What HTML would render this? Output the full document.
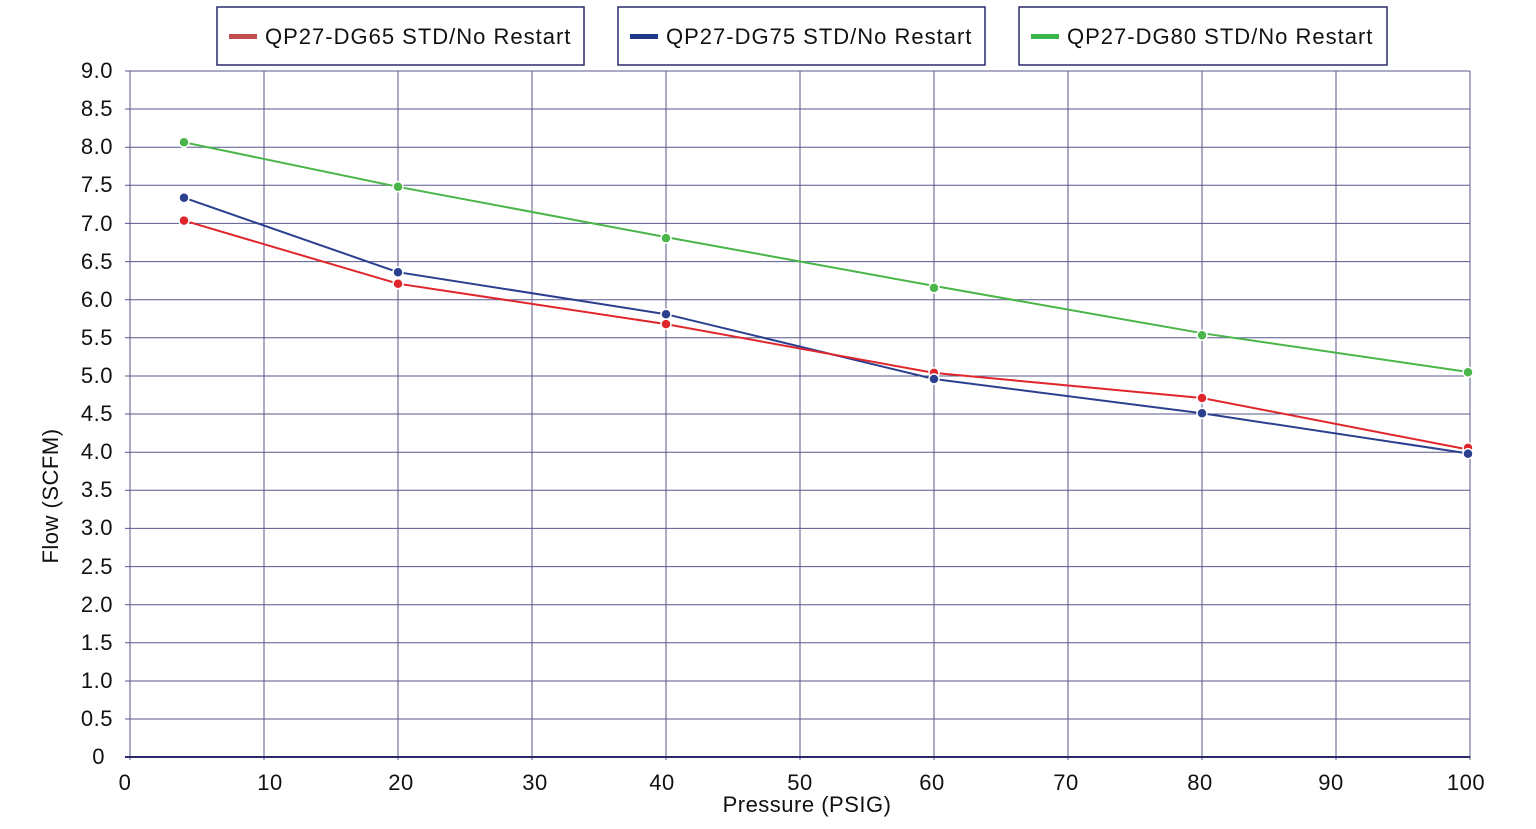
<!DOCTYPE html>
<html><head><style>body{margin:0;background:#fff}svg{display:block}</style></head><body>
<svg width="1536" height="829" xmlns="http://www.w3.org/2000/svg" font-family="Liberation Sans, sans-serif">
<g stroke="#3a3a7a" stroke-width="1" opacity="0.85">
<line x1="125" y1="71" x2="1470" y2="71"/><line x1="125" y1="109" x2="1470" y2="109"/><line x1="125" y1="147.2" x2="1470" y2="147.2"/><line x1="125" y1="185.3" x2="1470" y2="185.3"/><line x1="125" y1="223.4" x2="1470" y2="223.4"/><line x1="125" y1="261.6" x2="1470" y2="261.6"/><line x1="125" y1="299.7" x2="1470" y2="299.7"/><line x1="125" y1="337.8" x2="1470" y2="337.8"/><line x1="125" y1="376" x2="1470" y2="376"/><line x1="125" y1="414" x2="1470" y2="414"/><line x1="125" y1="452.2" x2="1470" y2="452.2"/><line x1="125" y1="490.3" x2="1470" y2="490.3"/><line x1="125" y1="528.4" x2="1470" y2="528.4"/><line x1="125" y1="566.6" x2="1470" y2="566.6"/><line x1="125" y1="604.7" x2="1470" y2="604.7"/><line x1="125" y1="642.8" x2="1470" y2="642.8"/><line x1="125" y1="681" x2="1470" y2="681"/><line x1="125" y1="719" x2="1470" y2="719"/>
<line x1="130" y1="71" x2="130" y2="760"/><line x1="264" y1="71" x2="264" y2="760"/><line x1="398" y1="71" x2="398" y2="760"/><line x1="532" y1="71" x2="532" y2="760"/><line x1="666" y1="71" x2="666" y2="760"/><line x1="800" y1="71" x2="800" y2="760"/><line x1="934" y1="71" x2="934" y2="760"/><line x1="1068" y1="71" x2="1068" y2="760"/><line x1="1202" y1="71" x2="1202" y2="760"/><line x1="1336" y1="71" x2="1336" y2="760"/><line x1="1470" y1="71" x2="1470" y2="760"/>
</g>
<line x1="125" y1="757" x2="1470" y2="757" stroke="#2a2a6a" stroke-width="2"/>
<g font-size="22" fill="#111" text-anchor="end" letter-spacing="0.5">
<text x="113" y="78">9.0</text><text x="113" y="116">8.5</text><text x="113" y="154">8.0</text><text x="113" y="192">7.5</text><text x="113" y="231">7.0</text><text x="113" y="269">6.5</text><text x="113" y="307">6.0</text><text x="113" y="345">5.5</text><text x="113" y="383">5.0</text><text x="113" y="421">4.5</text><text x="113" y="459">4.0</text><text x="113" y="497">3.5</text><text x="113" y="535">3.0</text><text x="113" y="574">2.5</text><text x="113" y="612">2.0</text><text x="113" y="650">1.5</text><text x="113" y="688">1.0</text><text x="113" y="726">0.5</text><text x="105" y="764">0</text>
</g>
<g font-size="22" fill="#111" text-anchor="middle" letter-spacing="0.5">
<text x="125" y="790">0</text><text x="270" y="790">10</text><text x="401" y="790">20</text><text x="535" y="790">30</text><text x="662" y="790">40</text><text x="800" y="790">50</text><text x="932" y="790">60</text><text x="1066" y="790">70</text><text x="1200" y="790">80</text><text x="1331" y="790">90</text><text x="1466" y="790">100</text>
<text x="807" y="812">Pressure (PSIG)</text>
<text transform="translate(58,496) rotate(-90)">Flow (SCFM)</text>
</g>
<polyline fill="none" stroke="#4ab548" stroke-width="2" points="184,142.3 398,186.8 666,237.1 934,285.9 1202,333.2 1470,372.3"/>
<polyline fill="none" stroke="#2b3f8f" stroke-width="2" points="184,197.7 398,272.2 666,314.2 934,379 1202,413.3 1470,453.7"/>
<polyline fill="none" stroke="#e0262c" stroke-width="2" points="184,220.6 398,283.7 666,324.1 934,372.9 1202,398 1470,449.9"/>
<g stroke="#fff" stroke-width="1.5">
<g fill="#4ab548"><circle cx="184" cy="142.3" r="5"/><circle cx="398" cy="186.8" r="5"/><circle cx="666" cy="238.1" r="5"/><circle cx="934" cy="287.9" r="5"/><circle cx="1202" cy="335.2" r="5"/><circle cx="1468" cy="372.3" r="5"/></g>
<g fill="#e0262c"><circle cx="184" cy="220.6" r="5"/><circle cx="398" cy="283.7" r="5"/><circle cx="666" cy="324.1" r="5"/><circle cx="934" cy="372.9" r="5"/><circle cx="1202" cy="398" r="5"/><circle cx="1468" cy="447.9" r="5"/></g>
<g fill="#2b3f8f"><circle cx="184" cy="197.7" r="5"/><circle cx="398" cy="272.2" r="5"/><circle cx="666" cy="314.2" r="5"/><circle cx="934" cy="379" r="5"/><circle cx="1202" cy="413.3" r="5"/><circle cx="1468" cy="453.7" r="5"/></g>
</g>
<g font-size="22" fill="#111" letter-spacing="1">
<rect x="217" y="7" width="367" height="58" fill="#fff" stroke="#2a2a6a" stroke-width="1.5"/>
<rect x="229" y="34" width="28" height="5" fill="#c0504d"/><text x="265" y="44">QP27-DG65 STD/No Restart</text>
<rect x="618" y="7" width="367" height="58" fill="#fff" stroke="#2a2a6a" stroke-width="1.5"/>
<rect x="630" y="34" width="28" height="5" fill="#1f3a8a"/><text x="666" y="44">QP27-DG75 STD/No Restart</text>
<rect x="1019" y="7" width="368" height="58" fill="#fff" stroke="#2a2a6a" stroke-width="1.5"/>
<rect x="1031" y="34" width="28" height="5" fill="#3ab54a"/><text x="1067" y="44">QP27-DG80 STD/No Restart</text>
</g>
</svg>
</body></html>
